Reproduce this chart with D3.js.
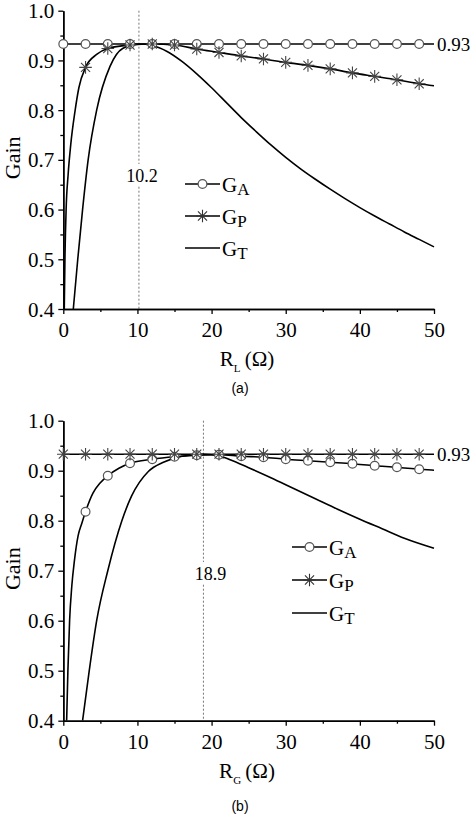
<!DOCTYPE html>
<html>
<head>
<meta charset="utf-8">
<script src="https://cdn.jsdelivr.net/npm/d3@7"></script>
<style>
  body { margin: 0; background: #fff; }
  svg { display: block; }
</style>
</head>
<body>
<svg id="chart" width="474" height="816"></svg>
<script>
// ---------- DATA ----------
const xTicks = [0, 10, 20, 30, 40, 50];
const yTicks = [0.4, 0.5, 0.6, 0.7, 0.8, 0.9, 1.0];

// Panel (a): gain vs R_L
const aOptimum = 10.2;
const aGAValue = 0.933;
const aGALine = [[0, 0.933], [50, 0.933]];
const aGAMarkerX = [0, 3, 6, 9, 12, 15, 18, 21, 24, 27, 30, 33, 36, 39, 42, 45, 48];
const aGPCurve = [[0.13,0.40],[0.22,0.50],[0.38,0.60],[0.65,0.67],[1.0,0.73],[1.6,0.80],[2.1,0.845],[3,0.886],[4.5,0.912],[6,0.924],[9,0.931],[12,0.933],[15,0.931],[18,0.923],[21,0.916],[24,0.909],[27,0.903],[30,0.896],[33,0.890],[36,0.883],[39,0.875],[42,0.868],[45,0.861],[48,0.853],[50,0.849]];
const aGPMarkerX = [3, 6, 9, 12, 15, 18, 21, 24, 27, 30, 33, 36, 39, 42, 45, 48];
const aGPMarkerY = [0.886,0.924,0.931,0.933,0.931,0.923,0.916,0.909,0.903,0.896,0.890,0.883,0.875,0.868,0.861,0.853];
const aGTCurve = [[1.35,0.40],[1.95,0.50],[2.6,0.60],[3.35,0.70],[4.5,0.80],[6.3,0.888],[8,0.924],[10.2,0.933],[12,0.930],[14,0.918],[16,0.898],[18,0.873],[20,0.845],[22,0.815],[24,0.785],[26,0.757],[28,0.730],[30,0.705],[32,0.682],[34,0.661],[36,0.641],[38,0.622],[40,0.604],[42,0.587],[44,0.571],[46,0.555],[48,0.540],[50,0.525]];

// Panel (b): gain vs R_G
const bOptimum = 18.9;
const bGPValue = 0.933;
const bGPLine = [[0, 0.933], [50, 0.933]];
const bGPMarkerX = [0, 3, 6, 9, 12, 15, 18, 21, 24, 27, 30, 33, 36, 39, 42, 45, 48];
const bGACurve = [[0.45,0.40],[0.62,0.50],[0.85,0.60],[1.15,0.67],[1.5,0.72],[2.0,0.77],[2.5,0.795],[3,0.818],[4,0.855],[5,0.876],[6,0.890],[7.5,0.905],[9,0.915],[12,0.923],[15,0.928],[18,0.931],[21,0.932],[24,0.929],[27,0.927],[30,0.923],[33,0.920],[36,0.917],[39,0.914],[42,0.910],[45,0.907],[48,0.903],[50,0.901]];
const bGAMarkerX = [3, 6, 9, 12, 15, 18, 21, 24, 27, 30, 33, 36, 39, 42, 45, 48];
const bGAMarkerY = [0.818,0.890,0.915,0.923,0.928,0.931,0.932,0.929,0.927,0.923,0.920,0.917,0.914,0.910,0.907,0.903];
const bGTCurve = [[2.6,0.40],[3.5,0.50],[4.5,0.60],[6.0,0.70],[7.9,0.80],[9.2,0.849],[11.5,0.899],[13.5,0.917],[16,0.929],[18.9,0.933],[21,0.930],[22.5,0.922],[25,0.906],[28,0.886],[31,0.865],[34,0.844],[37,0.823],[40,0.803],[43,0.784],[46,0.765],[50,0.745]];

// ---------- DRAWING ----------
const svg = d3.select("#chart");
const SERIF = '"Liberation Serif", "Times New Roman", Times, serif';
const SANS = '"Liberation Sans", Arial, sans-serif';

function starPath(s) {
  const d = s * 0.72;
  return `M0,${-s}L0,${s}M${-s},0L${s},0M${-d},${-d}L${d},${d}M${-d},${d}L${d},${-d}`;
}

function drawPanel(cfg) {
  const x = d3.scaleLinear().domain([0, 50]).range([63.3, 434]);
  const y = d3.scaleLinear().domain([0.4, 1.0]).range([cfg.y0, cfg.y1]);
  const g = svg.append("g");

  const clipId = "clip" + cfg.id;
  svg.append("defs").append("clipPath").attr("id", clipId)
    .append("rect").attr("x", x(0)).attr("y", y(1.0) - 10).attr("width", x(50) - x(0) + 2).attr("height", y(0.4) - y(1.0) + 10);

  // optimum dotted line
  g.append("line")
    .attr("x1", x(cfg.opt)).attr("x2", x(cfg.opt))
    .attr("y1", y(1.0)).attr("y2", y(0.4))
    .attr("stroke", "#777").attr("stroke-width", 1).attr("stroke-dasharray", "2,2");
  const optLabel = g.append("text")
    .attr("x", x(cfg.opt) + cfg.optDx).attr("y", cfg.optY)
    .attr("text-anchor", "middle")
    .attr("font-family", SERIF).attr("font-size", 18)
    .text(String(cfg.opt));
  const bb = optLabel.node().getBBox();
  g.insert("rect", "text").attr("x", bb.x - 1).attr("y", bb.y - 2).attr("width", bb.width + 2).attr("height", bb.height + 2).attr("fill", "#fff");

  // axes
  const yAxis = d3.axisLeft(y).tickValues(yTicks).tickFormat(d3.format(".1f")).tickSize(5).tickSizeOuter(0);
  const yMinor = d3.axisLeft(y).tickValues(d3.range(0.45, 1.0, 0.1)).tickFormat("").tickSize(3).tickSizeOuter(0);
  const xAxis = d3.axisBottom(x).tickValues(xTicks).tickFormat(d3.format("d")).tickSize(5).tickSizeOuter(0);
  const xMinor = d3.axisBottom(x).tickValues([5, 15, 25, 35, 45]).tickFormat("").tickSize(3).tickSizeOuter(0);

  const styleAxis = sel => {
    sel.attr("font-family", SERIF).attr("font-size", 21);
    sel.selectAll("path.domain").attr("stroke", "#000").attr("stroke-width", 1.5);
    sel.selectAll("line").attr("stroke", "#000").attr("stroke-width", 1.3);
    sel.selectAll("text").attr("font-family", SERIF).attr("font-size", 21).attr("fill", "#000");
  };
  g.append("g").attr("transform", `translate(${x(0)},0)`).call(yMinor).call(styleAxis);
  g.append("g").attr("transform", `translate(${x(0)},0)`).call(yAxis).call(styleAxis)
    .selectAll("text").attr("dx", "-1px").attr("dy", "0.34em");
  g.append("g").attr("transform", `translate(0,${y(0.4)})`).call(xMinor).call(styleAxis);
  g.append("g").attr("transform", `translate(0,${y(0.4)})`).call(xAxis).call(styleAxis)
    .selectAll("text").attr("dy", "0.95em");

  // series
  const line = d3.line().x(d => x(d[0])).y(d => y(d[1])).curve(d3.curveMonotoneX);
  const plot = g.append("g").attr("clip-path", `url(#${clipId})`);
  cfg.lines.forEach(l => {
    plot.append("path").attr("d", line(l)).attr("fill", "none").attr("stroke", "#000").attr("stroke-width", 1.6);
  });

  // markers
  const circ = cfg.circles;
  g.append("g").selectAll("circle").data(circ.x.map((v, i) => [v, circ.y[i]])).join("circle")
    .attr("cx", d => x(d[0])).attr("cy", d => y(d[1])).attr("r", 4.4)
    .attr("fill", "#fff").attr("stroke", "#555").attr("stroke-width", 1.2);
  const st = cfg.stars;
  g.append("g").selectAll("path").data(st.x.map((v, i) => [v, st.y[i]])).join("path")
    .attr("transform", d => `translate(${x(d[0])},${y(d[1])})`)
    .attr("d", starPath(6.3)).attr("fill", "none").attr("stroke", "#444").attr("stroke-width", 1.1);

  // 0.93 label
  g.append("text").attr("x", x(50) + 3).attr("y", y(cfg.flat)).attr("dy", "0.35em")
    .attr("font-family", SERIF).attr("font-size", 19).text("0.93");

  // y title
  g.append("text")
    .attr("transform", `translate(20,${(y(0.4) + y(1.0)) / 2 - 2}) rotate(-90)`)
    .attr("text-anchor", "middle")
    .attr("font-family", SERIF).attr("font-size", 22).text("Gain");

  // x title
  const xt = g.append("text").attr("x", 247).attr("y", y(0.4) + 57).attr("text-anchor", "middle")
    .attr("font-family", SERIF).attr("font-size", 21);
  xt.append("tspan").text("R");
  xt.append("tspan").attr("dy", 6).attr("font-size", 11).text(cfg.sub);
  xt.append("tspan").attr("dy", -6).text("\u2009(\u03A9)");

  // panel label
  g.append("text").attr("x", 240).attr("y", cfg.panelY).attr("text-anchor", "middle")
    .attr("font-family", SANS).attr("font-size", 14).text(cfg.panel);

  // legend
  const items = [
    { key: "A", type: "circle" },
    { key: "P", type: "star" },
    { key: "T", type: "line" }
  ];
  items.forEach((it, i) => {
    const ly = cfg.legY + i * cfg.legStep;
    const lx = cfg.legX;
    g.append("line").attr("x1", lx).attr("x2", lx + 35).attr("y1", ly).attr("y2", ly)
      .attr("stroke", "#000").attr("stroke-width", 1.6);
    if (it.type === "circle") {
      g.append("circle").attr("cx", lx + 17.5).attr("cy", ly).attr("r", 4.4)
        .attr("fill", "#fff").attr("stroke", "#555").attr("stroke-width", 1.2);
    } else if (it.type === "star") {
      g.append("path").attr("transform", `translate(${lx + 17.5},${ly})`).attr("d", starPath(6.3))
        .attr("fill", "none").attr("stroke", "#333").attr("stroke-width", 1.1);
    }
    const t = g.append("text").attr("x", lx + 37).attr("y", ly + 8)
      .attr("font-family", SERIF).attr("font-size", 21);
    t.append("tspan").text("G");
    t.append("tspan").attr("dy", 3).attr("font-size", 17).text(it.key);
  });
}

drawPanel({
  id: "a", y0: 309, y1: 10.7, opt: aOptimum, optDx: 3, optY: 182,
  lines: [aGALine, aGPCurve, aGTCurve],
  circles: { x: aGAMarkerX, y: aGAMarkerX.map(() => aGAValue) },
  stars: { x: aGPMarkerX, y: aGPMarkerY },
  flat: aGAValue, sub: "L", panel: "(a)", panelY: 393,
  legX: 185, legY: 184, legStep: 32
});

drawPanel({
  id: "b", y0: 720.7, y1: 420.7, opt: bOptimum, optDx: 7, optY: 580,
  lines: [bGPLine, bGACurve, bGTCurve],
  circles: { x: bGAMarkerX, y: bGAMarkerY },
  stars: { x: bGPMarkerX, y: bGPMarkerX.map(() => bGPValue) },
  flat: bGPValue, sub: "G", panel: "(b)", panelY: 811,
  legX: 292, legY: 547, legStep: 33
});
</script>
</body>
</html>
